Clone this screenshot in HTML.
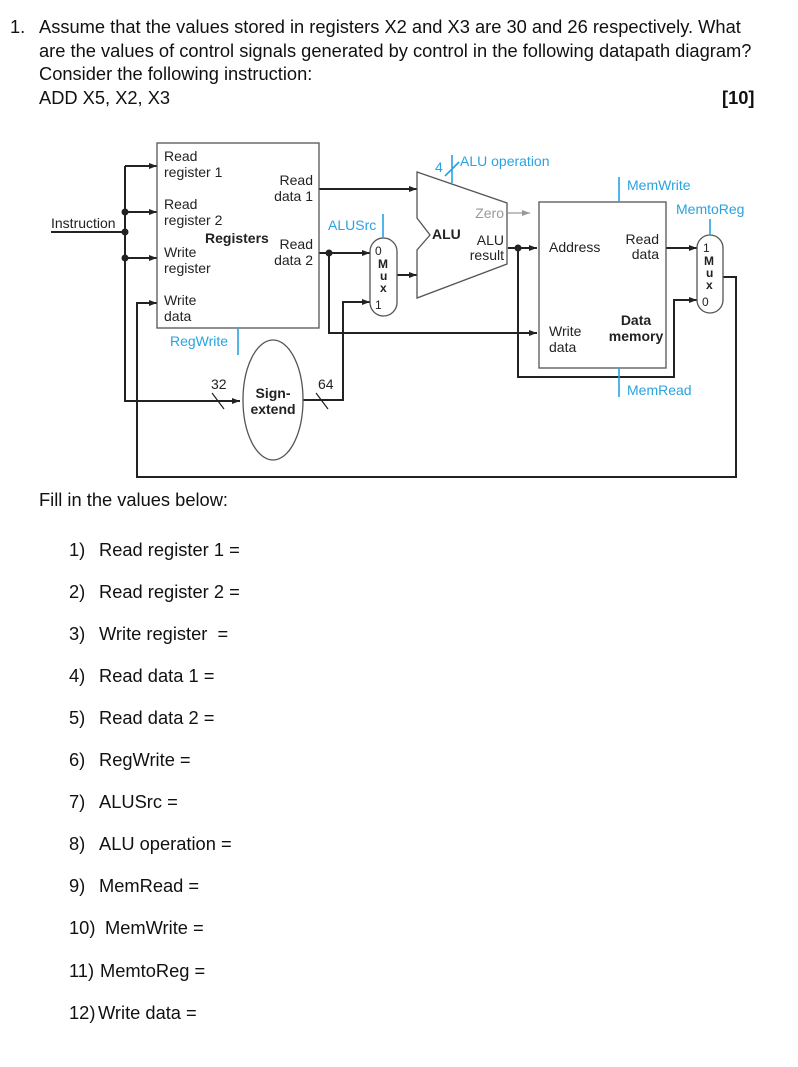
<!DOCTYPE html>
<html><head><meta charset="utf-8"><style>
body{margin:0;background:#fff;width:798px;height:1067px;position:relative;font-family:"Liberation Sans",Arial,sans-serif;color:#111;overflow:hidden}
.t{position:absolute;font-size:18.3px;white-space:nowrap}
.n{position:absolute;font-size:18.3px;white-space:nowrap}
</style></head><body>
<div class="t" style="left:10px;top:16px">1.</div>
<div class="t" style="left:39px;top:16px">Assume that the values stored in registers X2 and X3 are 30 and 26 respectively. What</div>
<div class="t" style="left:39px;top:40px">are the values of control signals generated by control in the following datapath diagram?</div>
<div class="t" style="left:39px;top:63px">Consider the following instruction:</div>
<div class="t" style="left:39px;top:87px">ADD X5, X2, X3</div>
<div class="t" style="left:722px;top:87px;font-weight:bold">[10]</div>

<svg width="798" height="480" style="position:absolute;left:0;top:0" font-family="Liberation Sans,Arial,sans-serif" font-size="14">
<defs><marker id="a" markerWidth="8" markerHeight="6" refX="8" refY="3" orient="auto" markerUnits="userSpaceOnUse"><path d="M0,0L8,3L0,6z" fill="#222"/></marker>
<marker id="g" markerWidth="8" markerHeight="6" refX="8" refY="3" orient="auto" markerUnits="userSpaceOnUse"><path d="M0,0L8,3L0,6z" fill="#999"/></marker></defs>
<g fill="none" stroke="#222" stroke-width="2">
<path d="M51,232H125"/>
<path d="M125,166V401H240" marker-end="url(#a)"/>
<path d="M125,166H157" marker-end="url(#a)"/>
<path d="M125,212H157" marker-end="url(#a)"/>
<path d="M125,258H157" marker-end="url(#a)"/>
<path d="M319,189H417" marker-end="url(#a)"/>
<path d="M319,253H370" marker-end="url(#a)"/>
<path d="M329,253V333H537" marker-end="url(#a)"/>
<path d="M303,400H343V302H370" marker-end="url(#a)"/>
<path d="M397,275H417" marker-end="url(#a)"/>
<path d="M508,248H537" marker-end="url(#a)"/>
<path d="M518,248V377H674V300H697" marker-end="url(#a)"/>
<path d="M666,248H697" marker-end="url(#a)"/>
<path d="M723,277H736V477H137V303H157" marker-end="url(#a)"/>
</g>
<g fill="#222"><circle cx="125" cy="212" r="3.5"/><circle cx="125" cy="232" r="3.5"/><circle cx="125" cy="258" r="3.5"/><circle cx="329" cy="253" r="3.5"/><circle cx="518" cy="248" r="3.5"/></g>
<g stroke="#222" stroke-width="1.2"><path d="M212,393L224,409M316,393L328,409"/></g>
<rect x="157" y="143" width="162" height="185" fill="#fff" stroke="#555" stroke-width="1.3"/>
<ellipse cx="273" cy="400" rx="30" ry="60" fill="#fff" stroke="#555" stroke-width="1.3"/>
<rect x="370" y="238" width="27" height="78" rx="13.5" fill="#fff" stroke="#555" stroke-width="1.3"/>
<rect x="697" y="235" width="26" height="78" rx="13" fill="#fff" stroke="#555" stroke-width="1.3"/>
<path d="M417,172L507,203V264L417,298V250L430,235L417,218Z" fill="#fff" stroke="#555" stroke-width="1.3"/>
<rect x="539" y="202" width="127" height="166" fill="#fff" stroke="#555" stroke-width="1.3"/>
<path d="M508,213H530" stroke="#999" stroke-width="1.3" marker-end="url(#g)"/>
<g stroke="#29a3e0" stroke-width="1.6"><path d="M383,214V238M238,328V355M452,155V183M445,176L459,162M619,177V202M619,368V397M710,219V235"/></g>
<g fill="#29a3e0"><text x="328" y="230">ALUSrc</text><text x="170" y="346">RegWrite</text><text x="435" y="172">4</text><text x="460" y="166">ALU operation</text><text x="627" y="190">MemWrite</text><text x="676" y="214">MemtoReg</text><text x="627" y="395">MemRead</text></g>
<g fill="#222">
<text x="51" y="228">Instruction</text>
<text x="164" y="161">Read</text><text x="164" y="177">register 1</text>
<text x="164" y="209">Read</text><text x="164" y="225">register 2</text>
<text x="164" y="257">Write</text><text x="164" y="273">register</text>
<text x="164" y="305">Write</text><text x="164" y="321">data</text>
<text x="313" y="185" text-anchor="end">Read</text><text x="313" y="201" text-anchor="end">data 1</text>
<text x="313" y="249" text-anchor="end">Read</text><text x="313" y="265" text-anchor="end">data 2</text>
<text x="205" y="243" font-weight="bold">Registers</text>
<text x="211" y="389">32</text><text x="318" y="389">64</text>
<text x="273" y="398" font-weight="bold" text-anchor="middle">Sign-</text><text x="273" y="414" font-weight="bold" text-anchor="middle">extend</text>
<text x="375" y="255" font-size="12">0</text><text x="378" y="268" font-size="12" font-weight="bold">M</text><text x="380" y="280" font-size="12" font-weight="bold">u</text><text x="380" y="292" font-size="12" font-weight="bold">x</text><text x="375" y="309" font-size="12">1</text>
<text x="703" y="252" font-size="12">1</text><text x="704" y="265" font-size="12" font-weight="bold">M</text><text x="706" y="277" font-size="12" font-weight="bold">u</text><text x="706" y="289" font-size="12" font-weight="bold">x</text><text x="702" y="306" font-size="12">0</text>
<text x="432" y="239" font-weight="bold">ALU</text>
<text x="504" y="245" text-anchor="end">ALU</text><text x="504" y="260" text-anchor="end">result</text>
<text x="504" y="218" fill="#999" text-anchor="end">Zero</text>
<text x="549" y="252">Address</text>
<text x="659" y="244" text-anchor="end">Read</text><text x="659" y="259" text-anchor="end">data</text>
<text x="549" y="336">Write</text><text x="549" y="352">data</text>
<text x="636" y="325" font-weight="bold" text-anchor="middle">Data</text><text x="636" y="341" font-weight="bold" text-anchor="middle">memory</text>
</g>
</svg>

<div class="t" style="left:39px;top:489px">Fill in the values below:</div>
<div class="n" style="left:69px;top:539px">1)</div><div class="n" style="left:99px;top:539px">Read register 1 =</div>
<div class="n" style="left:69px;top:581px">2)</div><div class="n" style="left:99px;top:581px">Read register 2 =</div>
<div class="n" style="left:69px;top:623px">3)</div><div class="n" style="left:99px;top:623px">Write register&nbsp; =</div>
<div class="n" style="left:69px;top:665px">4)</div><div class="n" style="left:99px;top:665px">Read data 1 =</div>
<div class="n" style="left:69px;top:707px">5)</div><div class="n" style="left:99px;top:707px">Read data 2 =</div>
<div class="n" style="left:69px;top:749px">6)</div><div class="n" style="left:99px;top:749px">RegWrite =</div>
<div class="n" style="left:69px;top:791px">7)</div><div class="n" style="left:99px;top:791px">ALUSrc =</div>
<div class="n" style="left:69px;top:833px">8)</div><div class="n" style="left:99px;top:833px">ALU operation =</div>
<div class="n" style="left:69px;top:875px">9)</div><div class="n" style="left:99px;top:875px">MemRead =</div>
<div class="n" style="left:69px;top:917px">10)</div><div class="n" style="left:105px;top:917px">MemWrite =</div>
<div class="n" style="left:69px;top:960px">11)</div><div class="n" style="left:100px;top:960px">MemtoReg =</div>
<div class="n" style="left:69px;top:1002px">12)</div><div class="n" style="left:98px;top:1002px">Write data =</div>
</body></html>
